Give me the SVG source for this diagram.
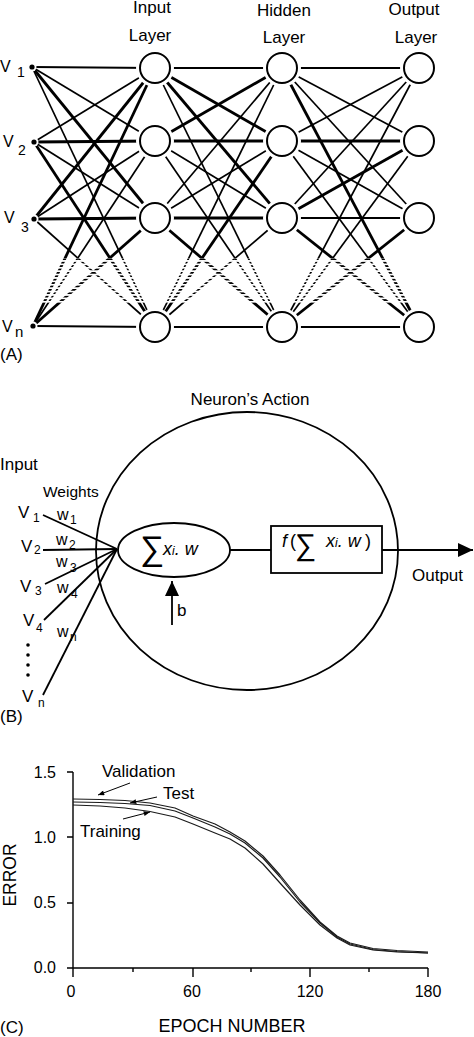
<svg xmlns="http://www.w3.org/2000/svg" width="474" height="1037" viewBox="0 0 474 1037">
<style>
text{font-family:"Liberation Sans",Arial,sans-serif;fill:#000}
.lbl{font-size:17px}
.sm{font-size:12px}
.it{font-style:italic}
.t{stroke-width:1.7}
.m{stroke-width:2.1}
.k{stroke-width:2.8}
.halo{fill:#fff;stroke:none}
.node{fill:#fff;stroke:#000;stroke-width:2}
.dot{fill:#000}
.ln{stroke:#000;fill:none;stroke-width:1.8}
.crv{stroke:#1a1a1a;fill:none;stroke-width:1.2;stroke-linejoin:round}
.ax{stroke:#000;fill:none;stroke-width:1.4}
.ann{stroke:#000;fill:none;stroke-width:1}
</style>
<defs>
<pattern id="stripes" width="10" height="3.4" patternUnits="userSpaceOnUse">
<rect width="10" height="3.4" fill="#000"/>
<rect width="10" height="1.7" fill="#fff"/>
</pattern>
<mask id="dotband" maskUnits="userSpaceOnUse" x="0" y="0" width="474" height="380">
<rect x="0" y="0" width="474" height="380" fill="#fff"/>
<rect x="0" y="258" width="474" height="45" fill="url(#stripes)"/>
</mask>
<marker id="big" viewBox="0 0 15 14" refX="15" refY="7" markerWidth="15" markerHeight="14" markerUnits="userSpaceOnUse" orient="auto">
<path d="M0,0 L15,7 L0,14 z" fill="#000"/>
</marker>
<marker id="sm" viewBox="0 0 10 8" refX="10" refY="4" markerWidth="8" markerHeight="5" markerUnits="userSpaceOnUse" orient="auto">
<path d="M0,0 L10,4 L0,8 z" fill="#000"/>
</marker>
</defs>
<rect width="474" height="1037" fill="#fff"/>

<!-- PANEL A -->
<g id="connectors-a" mask="url(#dotband)" stroke="#000" fill="none">
<line class="m" x1="32" y1="67" x2="155" y2="68"/>
<line class="t" x1="32" y1="67" x2="155" y2="141"/>
<line class="k" x1="32" y1="67" x2="155" y2="218"/>
<line class="t" x1="32" y1="67" x2="155" y2="327"/>
<line class="t" x1="34" y1="142" x2="155" y2="68"/>
<line class="k" x1="34" y1="142" x2="155" y2="141"/>
<line class="t" x1="34" y1="142" x2="155" y2="218"/>
<line class="k" x1="34" y1="142" x2="155" y2="327"/>
<line class="k" x1="34" y1="219" x2="155" y2="68"/>
<line class="t" x1="34" y1="219" x2="155" y2="141"/>
<line class="k" x1="34" y1="219" x2="155" y2="218"/>
<line class="t" x1="34" y1="219" x2="155" y2="327"/>
<line class="k" x1="33" y1="326" x2="155" y2="68"/>
<line class="t" x1="33" y1="326" x2="155" y2="141"/>
<line class="k" x1="33" y1="326" x2="155" y2="218"/>
<line class="m" x1="33" y1="326" x2="155" y2="327"/>

<line class="m" x1="155" y1="68" x2="282" y2="68"/>
<line class="k" x1="155" y1="68" x2="282" y2="141"/>
<line class="k" x1="155" y1="68" x2="282" y2="218"/>
<line class="t" x1="155" y1="68" x2="282" y2="327"/>
<line class="k" x1="155" y1="141" x2="282" y2="68"/>
<line class="k" x1="155" y1="141" x2="282" y2="141"/>
<line class="t" x1="155" y1="141" x2="282" y2="218"/>
<line class="t" x1="155" y1="141" x2="282" y2="327"/>
<line class="t" x1="155" y1="218" x2="282" y2="68"/>
<line class="t" x1="155" y1="218" x2="282" y2="141"/>
<line class="k" x1="155" y1="218" x2="282" y2="218"/>
<line class="k" x1="155" y1="218" x2="282" y2="327"/>
<line class="t" x1="155" y1="327" x2="282" y2="68"/>
<line class="k" x1="155" y1="327" x2="282" y2="141"/>
<line class="t" x1="155" y1="327" x2="282" y2="218"/>
<line class="m" x1="155" y1="327" x2="282" y2="327"/>

<line class="m" x1="282" y1="68" x2="419" y2="68"/>
<line class="t" x1="282" y1="68" x2="419" y2="141"/>
<line class="t" x1="282" y1="68" x2="419" y2="218"/>
<line class="k" x1="282" y1="68" x2="419" y2="327"/>
<line class="t" x1="282" y1="141" x2="419" y2="68"/>
<line class="k" x1="282" y1="141" x2="419" y2="141"/>
<line class="t" x1="282" y1="141" x2="419" y2="218"/>
<line class="t" x1="282" y1="141" x2="419" y2="327"/>
<line class="t" x1="282" y1="218" x2="419" y2="68"/>
<line class="k" x1="282" y1="218" x2="419" y2="141"/>
<line class="m" x1="282" y1="218" x2="419" y2="218"/>
<line class="k" x1="282" y1="218" x2="419" y2="327"/>
<line class="t" x1="282" y1="327" x2="419" y2="68"/>
<line class="t" x1="282" y1="327" x2="419" y2="141"/>
<line class="k" x1="282" y1="327" x2="419" y2="218"/>
<line class="m" x1="282" y1="327" x2="419" y2="327"/>
</g>

<g id="layer-titles" class="lbl" text-anchor="middle">
<text x="152" y="13">Input</text>
<text x="150" y="41">Layer</text>
<text x="284" y="16">Hidden</text>
<text x="284" y="43">Layer</text>
<text x="414" y="15">Output</text>
<text x="416" y="43">Layer</text>
</g>

<g id="v1"><circle class="halo" cx="32" cy="67" r="4.5"/><circle class="dot" cx="32" cy="67" r="2.6"/><text x="0" y="72" font-size="16">V</text><text x="17" y="77" font-size="14">1</text></g>
<g id="v2"><circle class="halo" cx="34" cy="142" r="4.5"/><circle class="dot" cx="34" cy="142" r="2.6"/><text x="3" y="147" font-size="16">V</text><text x="18" y="155" font-size="14">2</text></g>
<g id="v3"><circle class="halo" cx="34" cy="219" r="4.5"/><circle class="dot" cx="34" cy="219" r="2.6"/><text x="4" y="223" font-size="16">V</text><text x="21" y="232" font-size="14">3</text></g>
<g id="vn"><circle class="halo" cx="33" cy="326" r="4.5"/><circle class="dot" cx="33" cy="326" r="2.6"/><text x="2" y="332" font-size="16">V</text><text x="15" y="337" font-size="15">n</text></g>

<g id="in1"><circle class="halo" cx="155" cy="68" r="19"/><circle class="node" cx="155" cy="68" r="15"/></g>
<g id="in2"><circle class="halo" cx="155" cy="141" r="19"/><circle class="node" cx="155" cy="141" r="15"/></g>
<g id="in3"><circle class="halo" cx="155" cy="218" r="19"/><circle class="node" cx="155" cy="218" r="15"/></g>
<g id="in4"><circle class="halo" cx="155" cy="327" r="19"/><circle class="node" cx="155" cy="327" r="15"/></g>
<g id="hid1"><circle class="halo" cx="282" cy="68" r="19"/><circle class="node" cx="282" cy="68" r="15"/></g>
<g id="hid2"><circle class="halo" cx="282" cy="141" r="19"/><circle class="node" cx="282" cy="141" r="15"/></g>
<g id="hid3"><circle class="halo" cx="282" cy="218" r="19"/><circle class="node" cx="282" cy="218" r="15"/></g>
<g id="hid4"><circle class="halo" cx="282" cy="327" r="19"/><circle class="node" cx="282" cy="327" r="15"/></g>
<g id="out1"><circle class="halo" cx="419" cy="68" r="19"/><circle class="node" cx="419" cy="68" r="15"/></g>
<g id="out2"><circle class="halo" cx="419" cy="141" r="19"/><circle class="node" cx="419" cy="141" r="15"/></g>
<g id="out3"><circle class="halo" cx="419" cy="218" r="19"/><circle class="node" cx="419" cy="218" r="15"/></g>
<g id="out4"><circle class="halo" cx="419" cy="327" r="19"/><circle class="node" cx="419" cy="327" r="15"/></g>

<text class="lbl" x="0" y="360">(A)</text>

<!-- PANEL B -->
<g id="neuron">
<ellipse cx="247" cy="551" rx="151" ry="139" fill="none" stroke="#000" stroke-width="1.8"/>
<text class="lbl" x="250" y="405" text-anchor="middle">Neuron’s Action</text>
</g>

<g id="connectors-b">
<line class="ln" x1="43" y1="515" x2="117" y2="549"/>
<line class="ln" x1="43" y1="550" x2="117" y2="549"/>
<line class="ln" x1="45" y1="584" x2="117" y2="549"/>
<line class="ln" x1="44" y1="620" x2="117" y2="549"/>
<line class="ln" x1="43" y1="695" x2="117" y2="549"/>
<line class="ln" x1="230" y1="550" x2="271" y2="550"/>
<line class="ln" x1="382" y1="550" x2="473" y2="550" marker-end="url(#big)"/>
<line class="ln" x1="172" y1="625" x2="172" y2="581" stroke-width="2.2" marker-end="url(#big)"/>
</g>

<g id="inputs-b">
<text class="lbl" x="0" y="470">Input</text>
<text x="43" y="497" font-size="15.5">Weights</text>
<text x="18" y="518" font-size="17">V</text><text x="33" y="522" class="sm">1</text>
<text x="21" y="552" font-size="17">V</text><text x="34" y="554" class="sm">2</text>
<text x="20" y="592" font-size="17">V</text><text x="35" y="595" class="sm">3</text>
<text x="23" y="626" font-size="17">V</text><text x="36" y="632" class="sm">4</text>
<circle class="dot" cx="28" cy="645" r="1.8"/>
<circle class="dot" cx="28" cy="655" r="1.8"/>
<circle class="dot" cx="28" cy="665" r="1.8"/>
<circle class="dot" cx="28" cy="675" r="1.8"/>
<text x="22" y="702" font-size="17">V</text><text x="38" y="707" class="sm">n</text>
</g>
<g id="weights-b" font-size="16">
<text x="57" y="520">w</text><text x="70" y="524" class="sm">1</text>
<text x="56" y="545">w</text><text x="69" y="549" class="sm">2</text>
<text x="56" y="567">w</text><text x="70" y="572" class="sm">3</text>
<text x="57" y="593">w</text><text x="71" y="598" class="sm">4</text>
<text x="57" y="637">w</text><text x="70" y="641" class="sm">n</text>
</g>

<g id="sum">
<ellipse cx="174" cy="550" rx="56" ry="27" fill="#fff" stroke="#000" stroke-width="1.8"/>
<text x="140" y="560" font-size="34" font-family="DejaVu Sans, sans-serif">∑</text>
<text x="163" y="555" font-size="18" class="it">x<tspan font-size="12">i</tspan>. w</text>
</g>

<g id="activation">
<rect x="271" y="526" width="111" height="47" fill="#fff" stroke="#000" stroke-width="1.8"/>
<text x="282" y="547" font-size="18" class="it">f</text>
<text x="290" y="547" font-size="18">(</text>
<text x="295" y="555" font-size="30" font-family="DejaVu Sans, sans-serif">∑</text>
<text x="326" y="547" font-size="18" class="it">x<tspan font-size="12">i</tspan>. w</text>
<text x="365" y="547" font-size="18">)</text>
</g>

<g id="bias"><text class="lbl" x="177" y="616">b</text></g>
<g id="output-b"><text class="lbl" x="412" y="581">Output</text></g>

<text class="lbl" x="0" y="722">(B)</text>

<!-- PANEL C -->
<g id="axes">
<path class="ax" d="M73,772 V977 M73,968 H428"/>
<path class="ax" d="M67,772 H73 M67,837 H73 M67,903 H73 M67,968 H73"/>
<path class="ax" d="M193,968 V977 M310,968 V977 M428,968 V977 M133,968 V972 M251,968 V972 M369,968 V972"/>
<g font-size="16" text-anchor="end">
<text x="56" y="778">1.5</text>
<text x="56" y="843">1.0</text>
<text x="56" y="908">0.5</text>
<text x="56" y="973">0.0</text>
</g>
<g font-size="16" text-anchor="middle">
<text x="71" y="997">0</text>
<text x="192" y="997">60</text>
<text x="310" y="997">120</text>
<text x="428" y="997">180</text>
</g>
<text x="232" y="1032" font-size="18" text-anchor="middle">EPOCH NUMBER</text>
<text transform="translate(16,875) rotate(-90)" font-size="17.5" text-anchor="middle">ERROR</text>
</g>

<g id="curves">
<polyline class="crv" stroke-width="1.5" points="73,799 100,799.5 125,800.5 150,803 175,808 193,816 215,824 230,832 245,841 263,856 280,875 300,900 320,922 337,936 350,943 373,948.5 397,950.5 428,952"/>
<polyline class="crv" points="73,802 100,802.5 125,803.5 150,805.5 175,811 193,818 215,827 230,834 245,843 263,858 280,877 300,902 320,923 337,937 350,944 373,949.5 397,951.5 428,953"/>
<polyline class="crv" points="73,805 100,806 125,808 150,811.5 175,817 193,824 215,833 230,839 245,848 263,864 280,883 300,905 320,925 337,938 350,945 373,950 397,952 428,953"/>
</g>

<g id="annotations">
<text x="102" y="777" font-size="17">Validation</text>
<line class="ann" x1="130" y1="783" x2="98" y2="795" marker-end="url(#sm)"/>
<text x="163" y="799" font-size="17">Test</text>
<line class="ann" x1="157" y1="797" x2="130" y2="803" marker-end="url(#sm)"/>
<text x="80" y="837" font-size="17">Training</text>
<line class="ann" x1="123" y1="819" x2="150" y2="812" marker-end="url(#sm)"/>
</g>

<text class="lbl" x="0" y="1033">(C)</text>
</svg>
